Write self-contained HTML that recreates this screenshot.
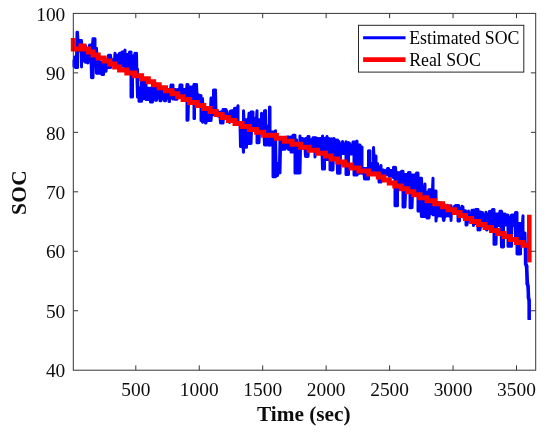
<!DOCTYPE html>
<html lang="en">
<head>
<meta charset="utf-8">
<title>Estimated SOC vs Real SOC</title>
<style>
html,body{margin:0;padding:0;background:#fff;}
body{width:550px;height:432px;overflow:hidden;}
svg{display:block;font-family:"Liberation Serif","Times New Roman",serif;}
.tick{font-size:19.4px;fill:#0d0d0d;}
.lab{font-size:21.3px;font-weight:bold;fill:#0d0d0d;}
.leg{font-size:17.8px;fill:#000;}
</style>
</head>
<body>
<svg width="550" height="432" viewBox="0 0 550 432">
<rect x="0" y="0" width="550" height="432" fill="#ffffff"/>
<g fill="none" stroke-linejoin="round" stroke-linecap="round">
<path d="M74.0,60.3 L74.0,66.2 L74.5,65.7 L74.5,57.1 L75.0,57.1 L75.0,67.0 L75.5,67.5 L75.5,57.1 L76.0,57.1 L76.0,67.5 L76.5,67.5 L76.5,57.1 L77.0,32.3 L77.0,67.5 L77.5,67.5 L77.5,32.3 L78.0,40.6 L78.0,50.8 L78.5,50.8 L78.5,40.6 L79.0,40.6 L79.0,50.8 L79.5,50.8 L79.5,40.6 L80.0,40.6 L80.0,50.8 L80.5,50.8 L80.5,40.6 L81.0,40.6 L81.0,50.8 L81.5,66.9 L81.5,40.6 L82.0,50.8 L82.0,61.0 L82.5,61.0 L82.5,50.8 L83.0,50.8 L83.0,61.0 L83.5,61.0 L83.5,50.8 L84.0,50.8 L84.0,61.0 L84.5,59.2 L84.5,50.8 L85.0,50.8 L85.0,59.2 L85.5,62.3 L85.5,45.7 L86.0,50.8 L86.0,62.3 L86.5,62.3 L86.5,50.8 L87.0,50.8 L87.0,62.3 L87.5,62.3 L87.5,50.8 L88.0,50.8 L88.0,62.9 L88.5,57.2 L88.5,50.8 L89.0,50.8 L89.0,57.2 L89.5,57.2 L89.5,45.0 L90.0,50.8 L90.0,57.2 L90.5,57.2 L90.5,45.0 L91.0,45.0 L91.0,57.2 L91.5,77.7 L91.5,45.0 L92.0,45.0 L92.0,77.7 L92.5,77.7 L92.5,45.0 L93.0,38.7 L93.0,77.7 L93.5,57.2 L93.5,45.0 L94.0,38.7 L94.0,57.2 L94.5,57.2 L94.5,38.7 L95.0,38.7 L95.0,57.2 L95.5,57.2 L95.5,48.2 L96.0,48.2 L96.0,57.2 L96.5,73.2 L96.5,48.2 L97.0,58.4 L97.0,58.4 L97.5,73.2 L97.5,59.7 L98.0,59.7 L98.0,73.2 L98.5,73.2 L98.5,59.7 L99.0,59.7 L99.0,73.2 L99.5,73.2 L99.5,62.2 L100.0,62.2 L100.0,71.4 L100.5,71.4 L100.5,62.2 L101.0,62.2 L101.0,71.4 L101.5,73.2 L101.5,62.2 L102.0,65.4 L102.0,74.5 L102.5,74.5 L102.5,65.4 L103.0,65.4 L103.0,74.5 L103.5,74.5 L103.5,62.2 L104.0,62.2 L104.0,71.3 L104.5,71.3 L104.5,62.2 L105.0,62.2 L105.0,71.3 L105.5,71.3 L105.5,62.2 L106.0,59.7 L106.0,71.3 L106.5,67.5 L106.5,59.7 L107.0,59.7 L107.0,67.5 L107.5,67.5 L107.5,59.7 L108.0,59.7 L108.0,67.5 L108.5,67.5 L108.5,55.2 L109.0,55.2 L109.0,67.5 L109.5,67.5 L109.5,55.2 L110.0,55.2 L110.0,67.5 L110.5,67.5 L110.5,55.2 L111.0,59.7 L111.0,63.5 L111.5,63.5 L111.5,59.7 L112.0,59.7 L112.0,63.5 L112.5,63.5 L112.5,59.7 L113.0,59.7 L113.0,63.5 L113.5,62.0 L113.5,59.7 L114.0,59.7 L114.0,60.5 L114.5,60.5 L114.5,59.7 L115.0,53.3 L115.0,62.3 L115.5,60.5 L115.5,55.2 L116.0,55.2 L116.0,60.5 L116.5,60.5 L116.5,55.2 L117.0,55.2 L117.0,63.5 L117.5,63.5 L117.5,55.2 L118.0,55.2 L118.0,63.5 L118.5,63.5 L118.5,55.2 L119.0,55.2 L119.0,63.5 L119.5,64.8 L119.5,53.3 L120.0,53.3 L120.0,64.8 L120.5,64.8 L120.5,53.3 L121.0,53.3 L121.0,64.8 L121.5,64.8 L121.5,53.3 L122.0,52.0 L122.0,66.1 L122.5,66.1 L122.5,52.0 L123.0,52.0 L123.0,66.1 L123.5,66.1 L123.5,52.0 L124.0,52.0 L124.0,66.1 L124.5,64.3 L124.5,52.0 L125.0,50.1 L125.0,67.4 L125.5,67.4 L125.5,54.6 L126.0,54.6 L126.0,67.4 L126.5,67.4 L126.5,54.6 L127.0,54.6 L127.0,67.4 L127.5,68.6 L127.5,54.6 L128.0,54.6 L128.0,68.6 L128.5,68.6 L128.5,54.6 L129.0,54.6 L129.0,68.6 L129.5,69.9 L129.5,52.0 L130.0,52.0 L130.0,69.9 L130.5,69.9 L130.5,55.9 L131.0,52.0 L131.0,96.9 L131.5,96.9 L131.5,55.9 L132.0,55.9 L132.0,96.9 L132.5,96.9 L132.5,55.9 L133.0,55.9 L133.0,72.5 L133.5,72.5 L133.5,55.9 L134.0,55.9 L134.0,72.5 L134.5,72.5 L134.5,55.9 L135.0,53.3 L135.0,72.5 L135.5,72.5 L135.5,69.2 L136.0,69.2 L136.0,72.5 L136.5,73.1 L136.5,53.3 L137.0,80.3 L137.0,80.3 L137.5,97.3 L137.5,69.2 L138.0,88.1 L138.0,97.3 L138.5,97.3 L138.5,88.1 L139.0,88.1 L139.0,101.3 L139.5,101.3 L139.5,88.1 L140.0,88.1 L140.0,101.3 L140.5,101.3 L140.5,88.1 L141.0,88.1 L141.0,101.3 L141.5,101.3 L141.5,82.0 L142.0,82.0 L142.0,98.8 L142.5,98.8 L142.5,82.0 L143.0,82.0 L143.0,97.0 L143.5,98.8 L143.5,82.0 L144.0,82.0 L144.0,97.0 L144.5,97.0 L144.5,82.0 L145.0,82.0 L145.0,97.0 L145.5,97.0 L145.5,82.0 L146.0,82.0 L146.0,99.6 L146.5,99.6 L146.5,88.3 L147.0,88.3 L147.0,99.6 L147.5,99.6 L147.5,88.3 L148.0,88.3 L148.0,99.6 L148.5,97.3 L148.5,88.3 L149.0,91.5 L149.0,97.3 L149.5,97.3 L149.5,91.5 L150.0,88.3 L150.0,97.3 L150.5,102.1 L150.5,88.3 L151.0,88.3 L151.0,102.1 L151.5,102.1 L151.5,88.3 L152.0,88.3 L152.0,97.9 L152.5,102.1 L152.5,82.0 L153.0,88.3 L153.0,97.9 L153.5,97.9 L153.5,82.6 L154.0,83.9 L154.0,97.9 L154.5,97.9 L154.5,83.9 L155.0,83.9 L155.0,97.9 L155.5,100.2 L155.5,83.9 L156.0,83.9 L156.0,100.2 L156.5,100.2 L156.5,83.9 L157.0,85.1 L157.0,97.9 L157.5,97.9 L157.5,86.4 L158.0,86.4 L158.0,97.9 L158.5,97.9 L158.5,85.1 L159.0,86.4 L159.0,97.9 L159.5,97.9 L159.5,86.4 L160.0,86.4 L160.0,100.8 L160.5,100.8 L160.5,86.4 L161.0,86.4 L161.0,100.8 L161.5,98.3 L161.5,87.7 L162.0,88.3 L162.0,98.3 L162.5,98.3 L162.5,88.3 L163.0,88.3 L163.0,98.3 L163.5,98.3 L163.5,88.3 L164.0,88.3 L164.0,98.3 L164.5,100.8 L164.5,91.5 L165.0,91.5 L165.0,100.8 L165.5,100.8 L165.5,91.5 L166.0,92.2 L166.0,98.3 L166.5,98.3 L166.5,92.8 L167.0,92.8 L167.0,98.3 L167.5,98.3 L167.5,90.2 L168.0,92.8 L168.0,98.3 L168.5,98.3 L168.5,89.6 L169.0,89.6 L169.0,101.5 L169.5,101.5 L169.5,89.6 L170.0,89.6 L170.0,97.9 L170.5,97.9 L170.5,89.6 L171.0,85.1 L171.0,97.9 L171.5,97.9 L171.5,89.6 L172.0,89.6 L172.0,97.9 L172.5,96.1 L172.5,85.1 L173.0,85.1 L173.0,99.0 L173.5,97.5 L173.5,89.6 L174.0,89.6 L174.0,97.5 L174.5,97.5 L174.5,89.6 L175.0,89.6 L175.0,99.3 L175.5,99.3 L175.5,89.6 L176.0,92.8 L176.0,99.3 L176.5,99.3 L176.5,92.8 L177.0,92.8 L177.0,99.3 L177.5,96.0 L177.5,89.6 L178.0,89.6 L178.0,96.0 L178.5,96.0 L178.5,89.6 L179.0,89.6 L179.0,96.0 L179.5,96.0 L179.5,89.6 L180.0,85.1 L180.0,95.7 L180.5,94.2 L180.5,85.1 L181.0,85.1 L181.0,94.2 L181.5,94.2 L181.5,85.1 L182.0,85.1 L182.0,94.2 L182.5,94.2 L182.5,89.6 L183.0,89.6 L183.0,94.2 L183.5,95.7 L183.5,89.6 L184.0,89.6 L184.0,94.2 L184.5,97.3 L184.5,89.6 L185.0,89.6 L185.0,97.3 L185.5,97.3 L185.5,89.6 L186.0,89.6 L186.0,97.3 L186.5,97.3 L186.5,89.6 L187.0,84.5 L187.0,120.3 L187.5,120.3 L187.5,84.5 L188.0,84.5 L188.0,120.3 L188.5,101.1 L188.5,87.0 L189.0,87.0 L189.0,101.1 L189.5,101.1 L189.5,87.0 L190.0,87.0 L190.0,101.1 L190.5,101.1 L190.5,87.0 L191.0,90.2 L191.0,99.3 L191.5,101.1 L191.5,87.0 L192.0,87.0 L192.0,101.1 L192.5,101.1 L192.5,87.0 L193.0,87.0 L193.0,101.1 L193.5,101.1 L193.5,87.0 L194.0,84.5 L194.0,118.4 L194.5,118.4 L194.5,84.5 L195.0,84.5 L195.0,103.6 L195.5,103.6 L195.5,84.5 L196.0,84.5 L196.0,103.6 L196.5,103.6 L196.5,84.5 L197.0,94.7 L197.0,103.6 L197.5,103.6 L197.5,94.7 L198.0,94.7 L198.0,101.8 L198.5,104.9 L198.5,94.7 L199.0,95.5 L199.0,104.9 L199.5,104.9 L199.5,95.5 L200.0,95.5 L200.0,104.9 L200.5,104.9 L200.5,95.5 L201.0,95.5 L201.0,120.5 L201.5,120.5 L201.5,107.0 L202.0,107.0 L202.0,120.5 L202.5,122.2 L202.5,98.5 L203.0,107.0 L203.0,120.5 L203.5,120.5 L203.5,108.2 L204.0,108.2 L204.0,120.5 L204.5,120.5 L204.5,108.2 L205.0,108.2 L205.0,120.5 L205.5,123.0 L205.5,108.2 L206.0,108.5 L206.0,123.0 L206.5,120.5 L206.5,112.7 L207.0,112.7 L207.0,120.5 L207.5,120.5 L207.5,112.7 L208.0,112.7 L208.0,120.5 L208.5,120.5 L208.5,109.5 L209.0,109.5 L209.0,120.5 L209.5,120.5 L209.5,109.5 L210.0,109.5 L210.0,120.5 L210.5,120.5 L210.5,109.5 L211.0,98.0 L211.0,120.5 L211.5,114.6 L211.5,109.5 L212.0,98.0 L212.0,114.6 L212.5,114.6 L212.5,98.0 L213.0,98.0 L213.0,114.6 L213.5,114.6 L213.5,89.9 L214.0,89.9 L214.0,112.8 L214.5,112.8 L214.5,89.9 L215.0,89.9 L215.0,114.3 L215.5,112.8 L215.5,89.9 L216.0,111.5 L216.0,112.8 L216.5,112.8 L216.5,111.5 L217.0,111.5 L217.0,112.8 L217.5,112.8 L217.5,111.5 L218.0,111.5 L218.0,115.9 L218.5,115.9 L218.5,115.2 L219.0,115.2 L219.0,115.9 L219.5,115.9 L219.5,115.2 L220.0,112.7 L220.0,115.9 L220.5,123.0 L220.5,112.0 L221.0,112.0 L221.0,123.0 L221.5,123.0 L221.5,112.0 L222.0,112.0 L222.0,123.0 L222.5,123.0 L222.5,112.0 L223.0,109.5 L223.0,123.0 L223.5,117.2 L223.5,112.0 L224.0,109.5 L224.0,117.2 L224.5,117.2 L224.5,109.5 L225.0,109.5 L225.0,117.2 L225.5,117.2 L225.5,109.5 L226.0,109.5 L226.0,115.4 L226.5,115.4 L226.5,112.7 L227.0,111.5 L227.0,117.2 L227.5,117.2 L227.5,114.0 L228.0,114.0 L228.0,117.2 L228.5,117.2 L228.5,114.0 L229.0,114.0 L229.0,117.2 L229.5,122.4 L229.5,114.0 L230.0,114.0 L230.0,119.7 L230.5,119.7 L230.5,111.1 L231.0,114.0 L231.0,119.7 L231.5,119.7 L231.5,114.0 L232.0,110.8 L232.0,119.7 L232.5,119.7 L232.5,110.8 L233.0,110.8 L233.0,117.9 L233.5,117.9 L233.5,110.8 L234.0,110.8 L234.0,117.9 L234.5,119.2 L234.5,108.2 L235.0,108.2 L235.0,119.2 L235.5,121.0 L235.5,108.2 L236.0,108.2 L236.0,121.0 L236.5,121.0 L236.5,108.2 L237.0,108.2 L237.0,119.2 L237.5,119.2 L237.5,108.2 L238.0,105.7 L238.0,122.3 L238.5,122.9 L238.5,122.9 L239.0,122.9 L239.0,122.9 L239.5,122.9 L239.5,122.9 L240.0,122.9 L240.0,122.9 L240.5,146.6 L240.5,123.5 L241.0,123.5 L241.0,146.6 L241.5,146.6 L241.5,123.5 L242.0,123.5 L242.0,146.6 L242.5,146.6 L242.5,123.5 L243.0,123.5 L243.0,146.6 L243.5,152.3 L243.5,110.8 L244.0,119.7 L244.0,147.2 L244.5,147.2 L244.5,119.7 L245.0,119.7 L245.0,147.2 L245.5,147.2 L245.5,119.7 L246.0,119.7 L246.0,147.2 L246.5,147.2 L246.5,119.7 L247.0,119.7 L247.0,143.4 L247.5,143.4 L247.5,119.7 L248.0,119.7 L248.0,143.4 L248.5,143.4 L248.5,119.7 L249.0,113.3 L249.0,143.4 L249.5,143.4 L249.5,113.3 L250.0,113.3 L250.0,143.4 L250.5,143.4 L250.5,113.3 L251.0,112.0 L251.0,143.4 L251.5,129.9 L251.5,113.3 L252.0,112.0 L252.0,129.9 L252.5,129.9 L252.5,118.4 L253.0,112.0 L253.0,129.9 L253.5,129.9 L253.5,118.4 L254.0,118.4 L254.0,128.1 L254.5,129.9 L254.5,118.4 L255.0,118.4 L255.0,129.9 L255.5,129.9 L255.5,118.4 L256.0,118.4 L256.0,129.9 L256.5,129.9 L256.5,118.4 L257.0,110.8 L257.0,142.8 L257.5,142.8 L257.5,119.7 L258.0,119.7 L258.0,142.8 L258.5,142.8 L258.5,119.7 L259.0,119.7 L259.0,142.8 L259.5,131.2 L259.5,119.7 L260.0,119.7 L260.0,131.2 L260.5,131.2 L260.5,119.7 L261.0,119.7 L261.0,131.2 L261.5,131.2 L261.5,113.3 L262.0,132.6 L262.0,132.6 L262.5,132.6 L262.5,132.6 L263.0,132.6 L263.0,132.6 L263.5,132.6 L263.5,132.6 L264.0,133.7 L264.0,133.7 L264.5,144.9 L264.5,110.8 L265.0,110.8 L265.0,144.9 L265.5,144.9 L265.5,110.4 L266.0,126.3 L266.0,144.9 L266.5,144.9 L266.5,126.3 L267.0,126.3 L267.0,143.1 L267.5,144.8 L267.5,126.3 L268.0,126.3 L268.0,143.1 L268.5,143.1 L268.5,126.3 L269.0,126.3 L269.0,143.1 L269.5,145.3 L269.5,107.0 L270.0,107.2 L270.0,144.9 L270.5,144.9 L270.5,132.0 L271.0,132.0 L271.0,144.9 L271.5,144.9 L271.5,132.0 L272.0,132.0 L272.0,144.9 L272.5,144.9 L272.5,132.0 L273.0,132.0 L273.0,176.8 L273.5,176.8 L273.5,132.0 L274.0,132.0 L274.0,176.8 L274.5,176.8 L274.5,132.0 L275.0,163.4 L275.0,175.4 L275.5,176.8 L275.5,130.8 L276.0,163.4 L276.0,175.4 L276.5,175.4 L276.5,163.4 L277.0,163.4 L277.0,175.4 L277.5,175.4 L277.5,163.4 L278.0,163.4 L278.0,172.9 L278.5,172.9 L278.5,163.4 L279.0,163.4 L279.0,172.9 L279.5,172.9 L279.5,163.4 L280.0,138.4 L280.0,172.9 L280.5,149.4 L280.5,139.7 L281.0,139.7 L281.0,149.4 L281.5,149.4 L281.5,139.7 L282.0,139.7 L282.0,149.4 L282.5,149.4 L282.5,142.9 L283.0,140.5 L283.0,147.6 L283.5,147.6 L283.5,142.9 L284.0,142.9 L284.0,147.6 L284.5,147.6 L284.5,139.7 L285.0,139.7 L285.0,149.3 L285.5,147.6 L285.5,139.7 L286.0,139.7 L286.0,147.6 L286.5,147.6 L286.5,139.7 L287.0,137.1 L287.0,147.6 L287.5,147.6 L287.5,137.1 L288.0,137.1 L288.0,147.6 L288.5,149.4 L288.5,137.1 L289.0,137.1 L289.0,149.4 L289.5,149.4 L289.5,140.3 L290.0,137.5 L290.0,149.4 L290.5,149.4 L290.5,137.1 L291.0,137.1 L291.0,151.9 L291.5,151.9 L291.5,137.1 L292.0,137.1 L292.0,151.9 L292.5,151.9 L292.5,137.1 L293.0,135.2 L293.0,151.9 L293.5,151.9 L293.5,137.1 L294.0,135.2 L294.0,151.9 L294.5,151.9 L294.5,135.2 L295.0,135.2 L295.0,172.9 L295.5,172.9 L295.5,139.7 L296.0,161.3 L296.0,172.9 L296.5,172.9 L296.5,139.7 L297.0,161.3 L297.0,172.9 L297.5,172.9 L297.5,161.3 L298.0,161.3 L298.0,172.9 L298.5,172.9 L298.5,161.3 L299.0,161.3 L299.0,172.9 L299.5,172.9 L299.5,161.3 L300.0,135.9 L300.0,172.9 L300.5,148.1 L300.5,138.4 L301.0,138.4 L301.0,148.1 L301.5,148.1 L301.5,138.4 L302.0,138.4 L302.0,148.1 L302.5,148.1 L302.5,138.4 L303.0,141.6 L303.0,148.1 L303.5,148.1 L303.5,141.6 L304.0,139.2 L304.0,148.1 L304.5,148.1 L304.5,141.6 L305.0,141.6 L305.0,148.1 L305.5,156.4 L305.5,138.4 L306.0,138.4 L306.0,156.4 L306.5,156.4 L306.5,138.4 L307.0,138.4 L307.0,156.4 L307.5,147.4 L307.5,138.4 L308.0,136.5 L308.0,156.4 L308.5,147.4 L308.5,139.7 L309.0,136.5 L309.0,147.4 L309.5,147.4 L309.5,139.7 L310.0,139.7 L310.0,147.4 L310.5,147.4 L310.5,139.7 L311.0,139.7 L311.0,146.2 L311.5,146.2 L311.5,139.7 L312.0,139.7 L312.0,146.2 L312.5,148.0 L312.5,139.7 L313.0,137.8 L313.0,148.6 L313.5,148.0 L313.5,139.7 L314.0,137.8 L314.0,148.6 L314.5,148.6 L314.5,137.8 L315.0,137.8 L315.0,157.0 L315.5,149.9 L315.5,137.8 L316.0,137.8 L316.0,149.9 L316.5,149.9 L316.5,141.0 L317.0,141.0 L317.0,149.9 L317.5,149.9 L317.5,141.6 L318.0,138.4 L318.0,148.1 L318.5,148.1 L318.5,141.6 L319.0,141.6 L319.0,148.1 L319.5,148.1 L319.5,141.6 L320.0,138.4 L320.0,150.5 L320.5,150.5 L320.5,138.4 L321.0,138.4 L321.0,150.5 L321.5,150.5 L321.5,138.4 L322.0,138.4 L322.0,150.5 L322.5,169.1 L322.5,135.9 L323.0,138.4 L323.0,169.1 L323.5,169.1 L323.5,138.4 L324.0,138.4 L324.0,169.1 L324.5,169.1 L324.5,138.4 L325.0,138.4 L325.0,159.6 L325.5,159.6 L325.5,138.4 L326.0,138.4 L326.0,159.6 L326.5,159.6 L326.5,138.4 L327.0,136.5 L327.0,159.6 L327.5,159.6 L327.5,138.4 L328.0,138.4 L328.0,159.6 L328.5,159.6 L328.5,138.4 L329.0,138.7 L329.0,159.6 L329.5,159.6 L329.5,138.7 L330.0,141.9 L330.0,169.8 L330.5,169.8 L330.5,141.9 L331.0,141.9 L331.0,169.8 L331.5,170.0 L331.5,138.7 L332.0,140.5 L332.0,170.0 L332.5,152.7 L332.5,143.2 L333.0,140.0 L333.0,170.0 L333.5,152.7 L333.5,143.2 L334.0,138.4 L334.0,156.3 L334.5,152.7 L334.5,140.0 L335.0,140.0 L335.0,152.7 L335.5,152.7 L335.5,140.0 L336.0,140.0 L336.0,152.7 L336.5,152.7 L336.5,140.6 L337.0,143.8 L337.0,152.7 L337.5,173.2 L337.5,140.0 L338.0,143.8 L338.0,152.7 L338.5,173.2 L338.5,143.8 L339.0,141.4 L339.0,173.2 L339.5,173.2 L339.5,143.8 L340.0,143.8 L340.0,173.2 L340.5,153.4 L340.5,143.8 L341.0,143.8 L341.0,153.4 L341.5,153.4 L341.5,144.4 L342.0,144.4 L342.0,153.4 L342.5,153.4 L342.5,141.4 L343.0,144.4 L343.0,151.6 L343.5,153.4 L343.5,144.4 L344.0,144.4 L344.0,153.4 L344.5,153.4 L344.5,144.4 L345.0,144.4 L345.0,153.4 L345.5,153.4 L345.5,144.4 L346.0,141.7 L346.0,174.5 L346.5,174.5 L346.5,144.4 L347.0,145.7 L347.0,174.5 L347.5,174.5 L347.5,145.7 L348.0,145.7 L348.0,154.0 L348.5,174.5 L348.5,142.5 L349.0,145.7 L349.0,154.0 L349.5,154.0 L349.5,143.3 L350.0,145.7 L350.0,154.0 L350.5,154.0 L350.5,145.7 L351.0,145.7 L351.0,154.0 L351.5,154.0 L351.5,145.7 L352.0,145.7 L352.0,154.0 L352.5,154.0 L352.5,145.7 L353.0,142.0 L353.0,154.0 L353.5,154.0 L353.5,145.1 L354.0,141.9 L354.0,175.1 L354.5,175.1 L354.5,145.1 L355.0,141.9 L355.0,175.1 L355.5,175.1 L355.5,141.9 L356.0,141.9 L356.0,175.1 L356.5,175.1 L356.5,141.9 L357.0,141.2 L357.0,175.1 L357.5,173.2 L357.5,145.0 L358.0,145.0 L358.0,173.2 L358.5,173.2 L358.5,145.0 L359.0,145.0 L359.0,173.2 L359.5,173.2 L359.5,145.0 L360.0,145.0 L360.0,173.2 L360.5,171.4 L360.5,147.0 L361.0,147.0 L361.0,171.4 L361.5,171.4 L361.5,147.0 L362.0,147.0 L362.0,173.2 L362.5,173.2 L362.5,168.6 L363.0,168.6 L363.0,173.2 L363.5,173.2 L363.5,168.6 L364.0,168.6 L364.0,173.2 L364.5,178.9 L364.5,168.6 L365.0,171.8 L365.0,178.9 L365.5,178.9 L365.5,171.8 L366.0,168.6 L366.0,178.9 L366.5,178.9 L366.5,168.6 L367.0,168.6 L367.0,178.9 L367.5,178.9 L367.5,168.6 L368.0,168.6 L368.0,178.9 L368.5,178.9 L368.5,150.8 L369.0,150.8 L369.0,171.2 L369.5,171.2 L369.5,163.5 L370.0,150.8 L370.0,171.2 L370.5,171.2 L370.5,163.5 L371.0,163.5 L371.0,171.2 L371.5,169.4 L371.5,163.5 L372.0,163.5 L372.0,169.4 L372.5,170.9 L372.5,163.5 L373.0,163.5 L373.0,169.4 L373.5,170.0 L373.5,147.6 L374.0,155.9 L374.0,170.0 L374.5,170.0 L374.5,155.9 L375.0,155.9 L375.0,170.0 L375.5,170.0 L375.5,163.5 L376.0,155.9 L376.0,172.5 L376.5,172.5 L376.5,163.5 L377.0,168.6 L377.0,172.5 L377.5,172.5 L377.5,163.5 L378.0,168.6 L378.0,172.5 L378.5,172.5 L378.5,168.6 L379.0,168.6 L379.0,182.1 L379.5,182.1 L379.5,168.6 L380.0,168.6 L380.0,182.1 L380.5,182.1 L380.5,168.6 L381.0,165.4 L381.0,182.1 L381.5,175.0 L381.5,169.9 L382.0,169.9 L382.0,175.0 L382.5,175.0 L382.5,169.9 L383.0,169.9 L383.0,175.0 L383.5,175.0 L383.5,169.9 L384.0,173.1 L384.0,173.2 L384.5,173.2 L384.5,170.5 L385.0,173.1 L385.0,173.2 L385.5,173.2 L385.5,173.1 L386.0,173.1 L386.0,173.2 L386.5,174.6 L386.5,169.9 L387.0,169.9 L387.0,173.2 L387.5,174.5 L387.5,168.6 L388.0,168.6 L388.0,174.5 L388.5,174.5 L388.5,168.6 L389.0,170.5 L389.0,176.3 L389.5,176.3 L389.5,170.5 L390.0,170.5 L390.0,176.0 L390.5,174.5 L390.5,170.5 L391.0,170.5 L391.0,174.5 L391.5,175.1 L391.5,170.5 L392.0,170.5 L392.0,175.1 L392.5,176.9 L392.5,170.5 L393.0,170.5 L393.0,176.9 L393.5,177.5 L393.5,167.3 L394.0,170.5 L394.0,176.9 L394.5,177.5 L394.5,167.4 L395.0,167.3 L395.0,205.7 L395.5,205.8 L395.5,167.4 L396.0,174.4 L396.0,205.7 L396.5,205.8 L396.5,174.4 L397.0,174.4 L397.0,205.8 L397.5,205.7 L397.5,172.4 L398.0,174.4 L398.0,188.5 L398.5,188.5 L398.5,174.4 L399.0,174.4 L399.0,188.5 L399.5,188.5 L399.5,172.4 L400.0,174.4 L400.0,188.5 L400.5,188.5 L400.5,174.4 L401.0,174.4 L401.0,188.5 L401.5,188.5 L401.5,171.2 L402.0,171.2 L402.0,188.5 L402.5,188.5 L402.5,171.2 L403.0,171.2 L403.0,207.0 L403.5,207.0 L403.5,174.4 L404.0,174.4 L404.0,207.0 L404.5,207.0 L404.5,174.4 L405.0,174.4 L405.0,207.0 L405.5,192.3 L405.5,174.4 L406.0,174.4 L406.0,192.3 L406.5,192.3 L406.5,174.4 L407.0,174.4 L407.0,192.3 L407.5,192.3 L407.5,174.4 L408.0,174.4 L408.0,192.3 L408.5,192.3 L408.5,172.5 L409.0,172.5 L409.0,192.3 L409.5,192.3 L409.5,172.5 L410.0,172.5 L410.0,207.7 L410.5,207.7 L410.5,175.0 L411.0,175.0 L411.0,207.7 L411.5,207.7 L411.5,175.0 L412.0,175.0 L412.0,207.7 L412.5,193.5 L412.5,175.0 L413.0,178.2 L413.0,193.5 L413.5,193.5 L413.5,178.2 L414.0,175.0 L414.0,193.5 L414.5,193.5 L414.5,175.0 L415.0,175.0 L415.0,191.7 L415.5,193.5 L415.5,175.0 L416.0,175.0 L416.0,193.5 L416.5,193.5 L416.5,173.1 L417.0,173.1 L417.0,193.5 L417.5,193.5 L417.5,178.2 L418.0,173.1 L418.0,210.9 L418.5,193.5 L418.5,178.2 L419.0,178.2 L419.0,210.9 L419.5,210.9 L419.5,178.2 L420.0,178.2 L420.0,210.9 L420.5,210.9 L420.5,178.2 L421.0,178.2 L421.0,210.9 L421.5,216.6 L421.5,178.2 L422.0,189.7 L422.0,210.9 L422.5,216.6 L422.5,189.7 L423.0,189.7 L423.0,216.6 L423.5,216.6 L423.5,189.7 L424.0,189.7 L424.0,216.6 L424.5,216.6 L424.5,189.7 L425.0,184.0 L425.0,216.6 L425.5,214.8 L425.5,192.2 L426.0,192.2 L426.0,214.8 L426.5,216.6 L426.5,192.2 L427.0,192.2 L427.0,217.9 L427.5,217.9 L427.5,192.2 L428.0,192.2 L428.0,217.9 L428.5,217.9 L428.5,192.2 L429.0,189.7 L429.0,217.9 L429.5,213.4 L429.5,189.7 L430.0,189.7 L430.0,213.4 L430.5,213.4 L430.5,189.7 L431.0,189.7 L431.0,213.4 L431.5,213.4 L431.5,189.7 L432.0,189.7 L432.0,213.3 L432.5,211.6 L432.5,189.7 L433.0,178.2 L433.0,214.7 L433.5,214.7 L433.5,191.0 L434.0,191.0 L434.0,214.7 L434.5,214.7 L434.5,191.0 L435.0,191.0 L435.0,214.7 L435.5,214.7 L435.5,191.0 L436.0,191.0 L436.0,221.0 L436.5,215.9 L436.5,202.4 L437.0,202.4 L437.0,215.9 L437.5,215.9 L437.5,202.4 L438.0,202.4 L438.0,215.9 L438.5,215.9 L438.5,202.4 L439.0,205.6 L439.0,215.7 L439.5,214.1 L439.5,205.6 L440.0,205.6 L440.0,214.1 L440.5,214.1 L440.5,202.7 L441.0,206.9 L441.0,215.9 L441.5,215.9 L441.5,206.9 L442.0,203.7 L442.0,215.9 L442.5,215.9 L442.5,203.7 L443.0,203.7 L443.0,215.9 L443.5,220.4 L443.5,206.9 L444.0,204.1 L444.0,220.4 L444.5,215.9 L444.5,208.2 L445.0,208.2 L445.0,215.9 L445.5,215.9 L445.5,208.2 L446.0,208.2 L446.0,215.9 L446.5,215.9 L446.5,208.2 L447.0,208.2 L447.0,214.1 L447.5,214.1 L447.5,205.3 L448.0,208.2 L448.0,214.1 L448.5,215.9 L448.5,208.2 L449.0,208.2 L449.0,215.9 L449.5,215.9 L449.5,208.2 L450.0,208.2 L450.0,215.9 L450.5,215.9 L450.5,208.2 L451.0,205.7 L451.0,220.4 L451.5,208.8 L451.5,208.2 L452.0,208.2 L452.0,208.8 L452.5,208.8 L452.5,208.2 L453.0,208.2 L453.0,208.8 L453.5,208.8 L453.5,208.2 L454.0,208.8 L454.0,208.8 L454.5,208.8 L454.5,206.3 L455.0,208.8 L455.0,208.8 L455.5,208.8 L455.5,205.6 L456.0,205.6 L456.0,213.3 L456.5,213.3 L456.5,205.6 L457.0,205.6 L457.0,213.3 L457.5,213.3 L457.5,205.6 L458.0,205.6 L458.0,221.0 L458.5,221.0 L458.5,205.6 L459.0,208.8 L459.0,215.8 L459.5,221.0 L459.5,208.8 L460.0,208.8 L460.0,215.8 L460.5,215.8 L460.5,208.8 L461.0,208.8 L461.0,215.8 L461.5,215.8 L461.5,208.8 L462.0,206.2 L462.0,215.8 L462.5,214.0 L462.5,208.8 L463.0,206.9 L463.0,215.3 L463.5,217.1 L463.5,210.7 L464.0,210.7 L464.0,217.1 L464.5,217.1 L464.5,210.7 L465.0,210.7 L465.0,217.1 L465.5,217.1 L465.5,210.7 L466.0,213.9 L466.0,224.9 L466.5,224.9 L466.5,213.9 L467.0,213.9 L467.0,224.9 L467.5,220.9 L467.5,213.9 L468.0,213.9 L468.0,220.9 L468.5,220.9 L468.5,211.0 L469.0,213.9 L469.0,220.9 L469.5,220.9 L469.5,213.9 L470.0,213.9 L470.0,219.1 L470.5,220.6 L470.5,213.9 L471.0,213.9 L471.0,220.9 L471.5,220.9 L471.5,213.9 L472.0,210.3 L472.0,220.9 L472.5,220.9 L472.5,213.2 L473.0,213.2 L473.0,220.9 L473.5,225.5 L473.5,210.0 L474.0,213.2 L474.0,223.5 L474.5,223.5 L474.5,213.2 L475.0,210.0 L475.0,223.5 L475.5,223.5 L475.5,210.0 L476.0,209.4 L476.0,223.5 L476.5,223.5 L476.5,209.4 L477.0,209.4 L477.0,223.5 L477.5,223.5 L477.5,212.0 L478.0,209.4 L478.0,229.9 L478.5,223.5 L478.5,212.0 L479.0,212.0 L479.0,223.5 L479.5,229.9 L479.5,212.0 L480.0,212.0 L480.0,229.9 L480.5,226.0 L480.5,212.0 L481.0,215.2 L481.0,226.0 L481.5,226.0 L481.5,215.2 L482.0,215.2 L482.0,226.0 L482.5,226.0 L482.5,212.4 L483.0,215.2 L483.0,224.2 L483.5,224.2 L483.5,215.2 L484.0,215.2 L484.0,226.0 L484.5,226.0 L484.5,215.2 L485.0,215.2 L485.0,226.0 L485.5,226.0 L485.5,215.2 L486.0,212.3 L486.0,226.0 L486.5,229.9 L486.5,213.9 L487.0,213.9 L487.0,229.9 L487.5,228.5 L487.5,213.9 L488.0,213.9 L488.0,228.5 L488.5,228.5 L488.5,213.9 L489.0,213.9 L489.0,226.7 L489.5,226.7 L489.5,211.3 L490.0,213.9 L490.0,226.7 L490.5,226.7 L490.5,213.9 L491.0,213.9 L491.0,226.7 L491.5,228.5 L491.5,213.9 L492.0,210.7 L492.0,228.5 L492.5,228.5 L492.5,209.4 L493.0,210.7 L493.0,228.5 L493.5,228.5 L493.5,209.4 L494.0,209.4 L494.0,244.3 L494.5,244.3 L494.5,213.9 L495.0,213.9 L495.0,244.3 L495.5,244.3 L495.5,213.9 L496.0,213.9 L496.0,244.3 L496.5,225.5 L496.5,213.9 L497.0,217.1 L497.0,225.5 L497.5,225.5 L497.5,213.9 L498.0,213.9 L498.0,225.5 L498.5,225.5 L498.5,213.9 L499.0,213.9 L499.0,225.5 L499.5,225.5 L499.5,213.9 L500.0,211.3 L500.0,225.5 L500.5,225.5 L500.5,213.9 L501.0,211.3 L501.0,225.5 L501.5,246.9 L501.5,211.3 L502.0,213.9 L502.0,246.9 L502.5,246.9 L502.5,213.9 L503.0,213.9 L503.0,224.9 L503.5,246.9 L503.5,213.9 L504.0,213.9 L504.0,224.9 L504.5,224.9 L504.5,217.1 L505.0,213.9 L505.0,224.9 L505.5,224.9 L505.5,215.1 L506.0,215.1 L506.0,224.9 L506.5,224.9 L506.5,215.1 L507.0,215.1 L507.0,224.9 L507.5,224.9 L507.5,216.4 L508.0,215.1 L508.0,246.2 L508.5,246.2 L508.5,219.6 L509.0,219.6 L509.0,246.2 L509.5,246.2 L509.5,219.6 L510.0,219.6 L510.0,246.2 L510.5,246.2 L510.5,216.7 L511.0,219.6 L511.0,246.2 L511.5,246.2 L511.5,215.1 L512.0,219.6 L512.0,225.5 L512.5,225.5 L512.5,218.3 L513.0,215.1 L513.0,225.5 L513.5,225.5 L513.5,215.1 L514.0,215.1 L514.0,225.5 L514.5,225.5 L514.5,215.1 L515.0,215.1 L515.0,225.5 L515.5,237.5 L515.5,212.6 L516.0,212.6 L516.0,237.5 L516.5,237.5 L516.5,223.4 L517.0,212.6 L517.0,253.9 L517.5,237.5 L517.5,223.4 L518.0,223.4 L518.0,253.9 L518.5,253.9 L518.5,223.4 L519.0,223.4 L519.0,253.9 L519.5,253.9 L519.5,223.4 L520.0,226.6 L520.0,253.9 L520.5,253.9 L520.5,223.4 L521.0,223.4 L521.0,240.0 L521.5,240.0 L521.5,223.4 L522.0,223.4 L522.0,240.0 L522.5,240.0 L522.5,223.4 L523.0,215.8 L523.0,240.0 L523.5,242.6 L523.5,242.6 L524.0,242.7 L524.0,242.7 L525.0,233.0 L525.3,247.0 L525.8,262.0 L527.0,275.0 L527.9,285.0 L528.6,293.0 L529.2,305.0 L529.2,318.5" stroke="#0000ff" stroke-width="3.0"/>
<path d="M525.4,247 L525.5,264 L526.9,266 L527.0,284 L528.1,286 L528.3,298 L529.2,300 L529.2,320.1" stroke="#0000ff" stroke-width="3.3" stroke-linecap="butt"/>
</g>
<g fill="none" stroke="#ff0000" stroke-width="5.0" stroke-linejoin="miter" stroke-linecap="butt">
<path d="M73.3,38.0 L73.3,51.6 L73.3,49.1 L76.0,49.1 L80.9,49.1 L80.9,46.1 L83.8,46.1 L83.8,49.1 L88.4,49.1 L88.4,52.1 L93.0,52.1 L93.0,55.0 L98.2,55.0 L98.2,58.0 L104.2,58.0 L104.2,61.0 L109.8,61.0 L109.8,63.9 L114.7,63.9 L114.7,66.9 L119.6,66.9 L119.6,69.9 L126.8,69.9 L126.8,72.9 L134.6,72.9 L134.6,75.8 L141.6,75.8 L141.6,78.8 L148.3,78.8 L148.3,81.8 L153.7,81.8 L153.7,84.8 L159.2,84.8 L159.2,87.7 L165.5,87.7 L165.5,90.7 L172.1,90.7 L172.1,93.7 L177.7,93.7 L177.7,96.7 L183.1,96.7 L183.1,99.6 L189.6,99.6 L189.6,102.6 L197.2,102.6 L197.2,105.6 L203.8,105.6 L203.8,108.6 L210.1,108.6 L210.1,111.5 L216.2,111.5 L216.2,114.5 L222.1,114.5 L222.1,117.5 L228.4,117.5 L228.4,120.4 L235.0,120.4 L235.0,123.4 L242.0,123.4 L242.0,126.4 L249.4,126.4 L249.4,129.4 L256.6,129.4 L256.6,132.3 L263.6,132.3 L263.6,135.3 L276.4,135.3 L276.4,138.3 L284.5,138.3 L284.5,141.3 L292.1,141.3 L292.1,144.2 L300.7,144.2 L300.7,147.2 L309.2,147.2 L309.2,150.2 L317.5,150.2 L317.5,153.2 L325.5,153.2 L325.5,156.1 L331.2,156.1 L331.2,159.1 L337.8,159.1 L337.8,162.1 L344.5,162.1 L344.5,165.0 L351.1,165.0 L351.1,168.0 L358.9,168.0 L358.9,171.0 L368.8,171.0 L368.8,174.0 L378.3,174.0 L378.3,176.9 L383.9,176.9 L383.9,179.9 L389.3,179.9 L389.3,182.9 L394.8,182.9 L394.8,185.9 L401.3,185.9 L401.3,188.8 L407.8,188.8 L407.8,191.8 L413.8,191.8 L413.8,194.8 L419.9,194.8 L419.9,197.8 L427.1,197.8 L427.1,200.7 L434.7,200.7 L434.7,203.7 L442.6,203.7 L442.6,206.7 L448.1,206.7 L448.1,209.7 L454.6,209.7 L454.6,212.6 L460.0,212.6 L460.0,215.6 L465.4,215.6 L465.4,218.6 L471.6,218.6 L471.6,221.5 L478.5,221.5 L478.5,224.5 L485.1,224.5 L485.1,227.5 L491.5,227.5 L491.5,230.5 L497.8,230.5 L497.8,233.4 L504.1,233.4 L504.1,236.4 L510.3,236.4 L510.3,239.4 L516.3,239.4 L516.3,242.4 L523.0,242.4 L523.0,245.3 L529.3,245.3"/>
<path d="M529.3,214.7 L529.3,262.4" stroke-width="4.6"/>
</g>
<g stroke="#363636" stroke-width="1" fill="none">
<rect x="73.3" y="13.4" width="462.40" height="356.80"/>
<line x1="135.80" y1="370.2" x2="135.80" y2="365.40"/><line x1="135.80" y1="13.4" x2="135.80" y2="18.20"/><line x1="199.25" y1="370.2" x2="199.25" y2="365.40"/><line x1="199.25" y1="13.4" x2="199.25" y2="18.20"/><line x1="262.70" y1="370.2" x2="262.70" y2="365.40"/><line x1="262.70" y1="13.4" x2="262.70" y2="18.20"/><line x1="326.15" y1="370.2" x2="326.15" y2="365.40"/><line x1="326.15" y1="13.4" x2="326.15" y2="18.20"/><line x1="389.60" y1="370.2" x2="389.60" y2="365.40"/><line x1="389.60" y1="13.4" x2="389.60" y2="18.20"/><line x1="453.05" y1="370.2" x2="453.05" y2="365.40"/><line x1="453.05" y1="13.4" x2="453.05" y2="18.20"/><line x1="516.50" y1="370.2" x2="516.50" y2="365.40"/><line x1="516.50" y1="13.4" x2="516.50" y2="18.20"/><line x1="73.3" y1="310.75" x2="78.10" y2="310.75"/><line x1="535.7" y1="310.75" x2="530.90" y2="310.75"/><line x1="73.3" y1="251.28" x2="78.10" y2="251.28"/><line x1="535.7" y1="251.28" x2="530.90" y2="251.28"/><line x1="73.3" y1="191.81" x2="78.10" y2="191.81"/><line x1="535.7" y1="191.81" x2="530.90" y2="191.81"/><line x1="73.3" y1="132.34" x2="78.10" y2="132.34"/><line x1="535.7" y1="132.34" x2="530.90" y2="132.34"/><line x1="73.3" y1="72.87" x2="78.10" y2="72.87"/><line x1="535.7" y1="72.87" x2="530.90" y2="72.87"/>
</g>
<g class="tick"><text x="135.80" y="396.3" text-anchor="middle">500</text><text x="199.25" y="396.3" text-anchor="middle">1000</text><text x="262.70" y="396.3" text-anchor="middle">1500</text><text x="326.15" y="396.3" text-anchor="middle">2000</text><text x="389.60" y="396.3" text-anchor="middle">2500</text><text x="453.05" y="396.3" text-anchor="middle">3000</text><text x="516.50" y="396.3" text-anchor="middle">3500</text><text x="65.3" y="377.42" text-anchor="end">40</text><text x="65.3" y="317.95" text-anchor="end">50</text><text x="65.3" y="258.48" text-anchor="end">60</text><text x="65.3" y="199.01" text-anchor="end">70</text><text x="65.3" y="139.54" text-anchor="end">80</text><text x="65.3" y="80.07" text-anchor="end">90</text><text x="65.3" y="20.60" text-anchor="end">100</text></g>
<text class="lab" x="303.8" y="421.4" text-anchor="middle">Time (sec)</text>
<text class="lab" transform="translate(26.4,192.5) rotate(-90)" text-anchor="middle" letter-spacing="0.4">SOC</text>
<g>
<rect x="358.5" y="25.3" width="165.3" height="46.8" fill="#ffffff" stroke="#262626" stroke-width="1"/>
<line x1="363.1" y1="37.8" x2="405.5" y2="37.8" stroke="#0000ff" stroke-width="2.9"/>
<line x1="363.1" y1="59.6" x2="405.5" y2="59.6" stroke="#ff0000" stroke-width="4.6"/>
<text class="leg" x="409.2" y="43.8">Estimated SOC</text>
<text class="leg" x="409.2" y="65.5">Real SOC</text>
</g>
</svg>
</body>
</html>
